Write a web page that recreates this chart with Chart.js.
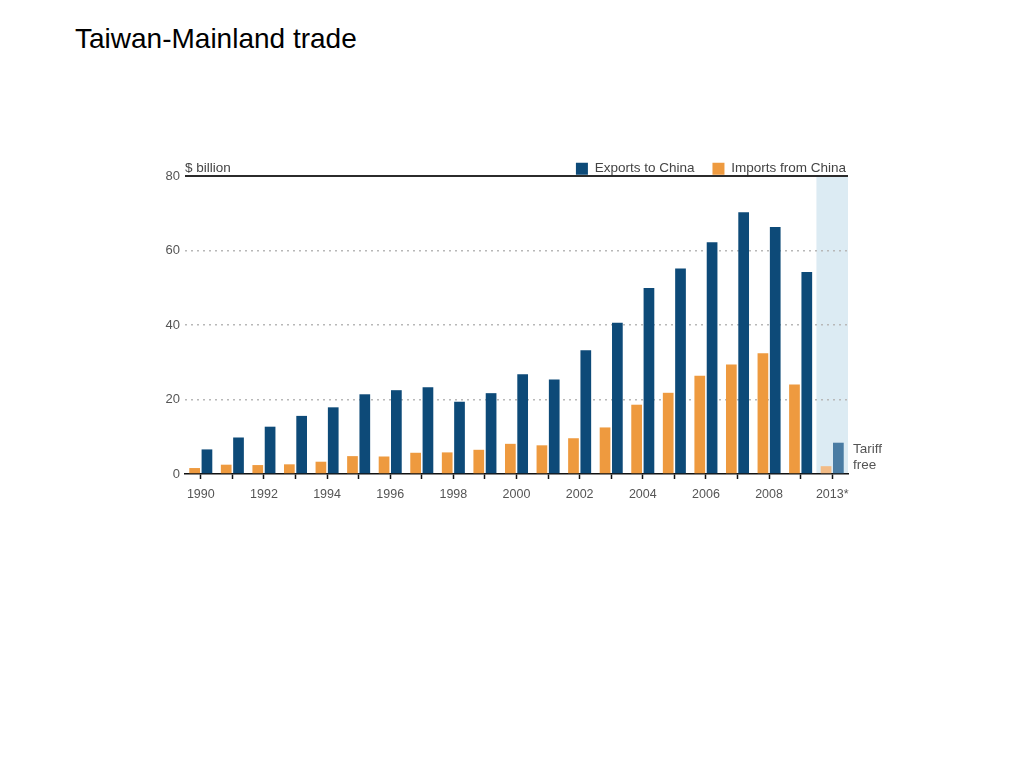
<!DOCTYPE html>
<html lang="en">
<head>
    <meta charset="UTF-8">
    <title>Taiwan-Mainland trade</title>
    <script src="https://cdn.jsdelivr.net/npm/chart.js"></script>
    <style>
        body {
            margin: 0;
            background: #fff;
            font-family: "Liberation Sans", Arial, sans-serif;
        }
        h1 {
            position: absolute;
            left: 75px;
            top: 23px;
            margin: 0;
            font-size: 28px;
            font-weight: normal;
            color: #000;
        }
        #wrap {
            position: absolute;
            left: 140px;
            top: 144px;
            width: 750px;
            height: 366px;
        }
    </style>
</head>
<body>

    <h1>Taiwan-Mainland trade</h1>
    <div id="wrap"><canvas id="tradeChart"></canvas></div>

    <script>
        // years, last one is the projected tariff-free column
        const years = ['1990', '1991', '1992', '1993', '1994', '1995', '1996', '1997', '1998', '1999',
                       '2000', '2001', '2002', '2003', '2004', '2005', '2006', '2007', '2008', '2009', '2013*'];

        // $ billion
        const exportsToChina = [6.6, 9.8, 12.7, 15.6, 17.9, 21.4, 22.5, 23.3, 19.4, 21.7,
                                26.8, 25.4, 33.2, 40.6, 49.9, 55.2, 62.2, 70.3, 66.3, 54.2, 8.4];
        const importsFromChina = [1.6, 2.5, 2.4, 2.6, 3.3, 4.8, 4.7, 5.7, 5.8, 6.5,
                                  8.1, 7.7, 9.6, 12.5, 18.6, 21.8, 26.4, 29.4, 32.4, 24.0, 2.1];

        const yTicks = [0, 20, 40, 60, 80];

        const lastIdx = years.length - 1;
        const FONT = '"Liberation Sans", Arial, sans-serif';

        // shaded column behind 2013*, top rule, "$ billion" and "Tariff free" notes
        const extras = {
            id: 'extras',
            afterLayout(chart) {
                // legend sits flush with the right edge of the plot
                if (chart.legend) {
                    chart.legend.left += 16;
                    chart.legend.right += 16;
                }
            },
            beforeDraw(chart) {
                const { ctx, chartArea, scales } = chart;
                const x = scales.x;
                const step = x.getPixelForValue(lastIdx) - x.getPixelForValue(lastIdx - 1);
                const cx = x.getPixelForValue(lastIdx);
                ctx.save();
                ctx.fillStyle = '#dcebf3';
                ctx.fillRect(cx - step / 2, chartArea.top + 1, step, chartArea.bottom - chartArea.top - 1);
                ctx.restore();
            },
            afterDraw(chart) {
                const { ctx, chartArea, scales } = chart;
                const yTop = scales.y.getPixelForValue(80);
                ctx.save();
                ctx.strokeStyle = '#2b2b2b';
                ctx.lineWidth = 2;
                ctx.beginPath();
                ctx.moveTo(chartArea.left, yTop);
                ctx.lineTo(chartArea.right, yTop);
                ctx.stroke();

                ctx.fillStyle = '#444';
                ctx.font = '13.5px ' + FONT;
                ctx.textBaseline = 'alphabetic';
                ctx.textAlign = 'left';
                ctx.fillText('$ billion', chartArea.left, yTop - 4);

                ctx.fillStyle = '#555';
                ctx.fillText('Tariff', chartArea.right + 5, chartArea.bottom - 21);
                ctx.fillText('free', chartArea.right + 5, chartArea.bottom - 5);
                ctx.restore();
            }
        };

        const ctx1 = document.getElementById('tradeChart').getContext('2d');
        const tradeChart = new Chart(ctx1, {
            type: 'bar',
            data: {
                labels: years,
                datasets: [
                    {
                        label: 'Imports from China',
                        data: importsFromChina,
                        backgroundColor: (c) => c.dataIndex === lastIdx ? '#f2bb86' : '#ee9a3f'
                    },
                    {
                        label: 'Exports to China',
                        data: exportsToChina,
                        backgroundColor: (c) => c.dataIndex === lastIdx ? '#4a7ca3' : '#0d4a78'
                    }
                ]
            },
            options: {
                responsive: true,
                maintainAspectRatio: false,
                animation: false,
                categoryPercentage: 0.78,
                barPercentage: 0.87,
                layout: {
                    padding: { left: 0, right: 42, top: 0, bottom: 0 }
                },
                plugins: {
                    tooltip: { enabled: false },
                    legend: {
                        position: 'top',
                        align: 'end',
                        reverse: true,
                        maxHeight: 32,
                        labels: {
                            boxWidth: 12,
                            boxHeight: 12,
                            padding: 18,
                            color: '#444',
                            font: { size: 13.5, family: FONT }
                        }
                    }
                },
                scales: {
                    y: {
                        min: 0,
                        max: 80,
                        afterBuildTicks: (s) => { s.ticks = yTicks.map(v => ({ value: v })); },
                        afterFit: (s) => { s.width = 45; },
                        border: { display: false, dash: [2, 4] },
                        grid: {
                            drawTicks: false,
                            color: (c) => (c.tick && (c.tick.value === 0 || c.tick.value === 80)) ? 'rgba(0,0,0,0)' : '#b8b8b8',
                            lineWidth: 1.5
                        },
                        ticks: {
                            padding: 5,
                            color: '#555',
                            font: { size: 13, family: FONT }
                        }
                    },
                    x: {
                        border: { display: true, color: '#111', width: 1.5 },
                        grid: {
                            offset: false,
                            drawOnChartArea: false,
                            drawTicks: true,
                            tickLength: 5,
                            tickColor: '#111',
                            tickWidth: 1.5
                        },
                        ticks: {
                            autoSkip: false,
                            maxRotation: 0,
                            padding: 8,
                            color: '#555',
                            font: { size: 12.5, family: FONT },
                            callback: function (value, index) {
                                return index % 2 === 0 ? this.getLabelForValue(value) : '';
                            }
                        }
                    }
                }
            },
            plugins: [extras]
        });
    </script>
</body>
</html>
